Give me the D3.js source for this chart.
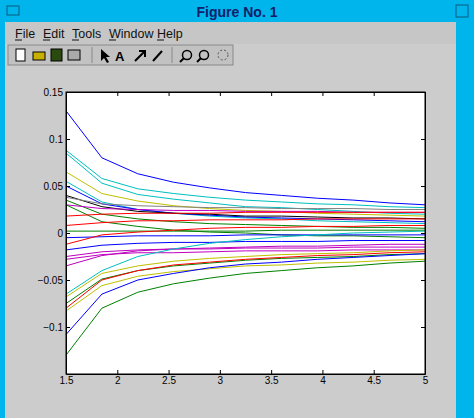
<!DOCTYPE html>
<html><head><meta charset="utf-8">
<script src="https://cdn.jsdelivr.net/npm/d3@7"></script>
<style>body{margin:0;background:#00b4ec;font-family:"Liberation Sans",Arial,sans-serif}</style>
</head><body>
<script>
// x positions of samples
var xs = [1.5, 1.85, 2.2, 2.55, 2.9, 3.25, 3.6, 3.95, 4.3, 4.65, 5];
var xTicks = [1.5, 2, 2.5, 3, 3.5, 4, 4.5, 5];
var yTicks = [-0.1, -0.05, 0, 0.05, 0.1, 0.15];
var menus = ['File', 'Edit', 'Tools', 'Window', 'Help'];

var colors = ['#0000ff','#00bfbf','#00bfbf','#bfbf00','#00bfbf','#0000ff','#000000','#808080','#008000',
  '#bf00bf','#008000','#ff0000','#ff0000','#008000','#0000ff','#ff0000','#0000ff','#bf00bf','#bf00bf',
  '#bf00bf','#00bfbf','#bfbf00','#008000','#ff0000','#bfbf00','#0000ff','#008000'];
var series = [
  [.130,.080,.063,.054,.048,.043,.040,.037,.035,.032,.030],
  [.088,.058,.047,.042,.038,.035,.033,.031,.030,.028,.027],
  [.085,.053,.041,.036,.032,.028,.027,.025,.023,.021,.020],
  [.065,.042,.034,.029,.026,.024,.023,.021,.020,.019,.018],
  [.055,.033,.025,.021,.018,.016,.015,.013,.012,.011,.010],
  [.050,.031,.025,.021,.019,.017,.016,.015,.014,.013,.012],
  [.040,.028,.023,.021,.020,.018,.018,.017,.016,.016,.015],
  [.038,.031,.029,.028,.027,.027,.026,.026,.026,.025,.025],
  [.035,.020,.015,.012,.010,.009,.008,.007,.006,.006,.005],
  [.030,.026,.025,.024,.024,.023,.023,.023,.022,.022,.022],
  [.030,.012,.007,.003,.001,0,-.002,-.003,-.003,-.004,-.005],
  [.018,.020,.021,.021,.021,.022,.022,.022,.022,.022,.022],
  [.008,.011,.013,.013,.014,.014,.014,.015,.015,.015,.015],
  [.002,.002,.002,.002,.002,.002,.003,.003,.003,.003,.003],
  [-.005,-.004,-.003,-.003,-.003,-.002,-.002,-.002,-.002,-.002,-.002],
  [-.012,-.002,.001,.003,.005,.006,.006,.007,.007,.008,.008],
  [-.018,-.013,-.011,-.010,-.010,-.009,-.009,-.009,-.008,-.008,-.008],
  [-.025,-.020,-.018,-.017,-.017,-.016,-.016,-.016,-.015,-.015,-.015],
  [-.028,-.023,-.021,-.021,-.020,-.019,-.019,-.019,-.018,-.018,-.018],
  [-.035,-.024,-.019,-.017,-.016,-.015,-.014,-.014,-.013,-.012,-.012],
  [-.065,-.040,-.025,-.017,-.011,-.007,-.004,-.002,0,.001,.002],
  [-.068,-.043,-.035,-.030,-.027,-.025,-.023,-.022,-.021,-.019,-.018],
  [-.075,-.049,-.040,-.035,-.032,-.029,-.027,-.026,-.025,-.023,-.022],
  [-.080,-.050,-.040,-.034,-.031,-.028,-.026,-.024,-.023,-.021,-.020],
  [-.083,-.056,-.046,-.041,-.038,-.035,-.034,-.032,-.031,-.029,-.028],
  [-.108,-.065,-.050,-.043,-.037,-.033,-.031,-.028,-.026,-.024,-.022],
  [-.130,-.080,-.063,-.054,-.048,-.043,-.040,-.037,-.035,-.032,-.030]
];

var svg = d3.select('body').append('svg').attr('width', 474).attr('height', 418).style('display', 'block');

/* window chrome */
svg.append('rect').attr('x', 0).attr('y', 0).attr('width', 474).attr('height', 418).attr('fill', '#00b4ec');
svg.append('rect').attr('x', 5).attr('y', 22).attr('width', 451).attr('height', 396).attr('fill', '#cccccc');
svg.append('text').attr('x', 237).attr('y', 17).attr('text-anchor', 'middle')
  .attr('font-size', 14).attr('font-weight', 'bold').attr('fill', '#10206a').text('Figure No. 1');
svg.append('rect').attr('x', 7).attr('y', 6).attr('width', 12).attr('height', 9).attr('fill', 'none').attr('stroke', '#0a5a80');
svg.append('rect').attr('x', 456).attr('y', 5).attr('width', 12).attr('height', 12).attr('fill', 'none').attr('stroke', '#0a5a80');
svg.append('rect').attr('x', 5).attr('y', 22).attr('width', 451).attr('height', 22).attr('fill', '#c6c6c6');
var mx = [15, 43, 72, 109, 157];
menus.forEach(function (m, i) {
  svg.append('text').attr('x', mx[i]).attr('y', 38).attr('font-size', 12.5).attr('fill', '#111').text(m);
  svg.append('line').attr('x1', mx[i]).attr('x2', mx[i] + 7).attr('y1', 40).attr('y2', 40).attr('stroke', '#111');
});
svg.append('rect').attr('x', 8).attr('y', 45).attr('width', 225).attr('height', 20).attr('fill', '#c2c2c2')
  .attr('stroke', '#888');
// toolbar glyphs
var tb = svg.append('g').attr('font-size', 13).attr('font-weight', 'bold');
tb.append('rect').attr('x', 16).attr('y', 49).attr('width', 9).attr('height', 12).attr('fill', '#fff').attr('stroke', '#000');
tb.append('rect').attr('x', 33).attr('y', 52).attr('width', 12).attr('height', 8).attr('fill', '#c8b000').attr('stroke', '#000');
tb.append('rect').attr('x', 51).attr('y', 49).attr('width', 11).attr('height', 12).attr('fill', '#2a4a10').attr('stroke', '#000');
tb.append('rect').attr('x', 68).attr('y', 50).attr('width', 12).attr('height', 10).attr('fill', '#aaa').attr('stroke', '#000');
tb.append('path').attr('d', 'M101,49 L101,61 L104,58 L107,63 L109,62 L106,57 L110,57 Z').attr('fill', '#000');
tb.append('text').attr('x', 115).attr('y', 61).text('A');
tb.append('path').attr('d', 'M135,61 L145,51 M139,51 L145,51 L145,57').attr('stroke', '#000').attr('stroke-width', 2).attr('fill', 'none');
tb.append('path').attr('d', 'M153,61 L162,51').attr('stroke', '#000').attr('stroke-width', 2);
[[187, 55], [204, 55]].forEach(function (c, i) {
  tb.append('circle').attr('cx', c[0]).attr('cy', c[1]).attr('r', 4.5).attr('fill', 'none').attr('stroke', '#000').attr('stroke-width', 1.5);
  tb.append('line').attr('x1', c[0] - 3).attr('y1', c[1] + 3).attr('x2', c[0] - 7).attr('y2', c[1] + 7).attr('stroke', '#000').attr('stroke-width', 2);
});
tb.append('circle').attr('cx', 223).attr('cy', 55).attr('r', 5).attr('fill', 'none').attr('stroke', '#555').attr('stroke-dasharray', '2,2');
svg.append('line').attr('x1', 92).attr('x2', 92).attr('y1', 47).attr('y2', 63).attr('stroke', '#888');
svg.append('line').attr('x1', 172).attr('x2', 172).attr('y1', 47).attr('y2', 63).attr('stroke', '#888');

/* axes */
var x = d3.scaleLinear().domain([1.5, 5]).range([66, 425]);
var y = d3.scaleLinear().domain([-0.15, 0.15]).range([374, 92]);
svg.append('rect').attr('x', 66).attr('y', 92).attr('width', 359).attr('height', 282).attr('fill', '#fff');

var line = d3.line().x(function (d, i) { return x(xs[i]); }).y(function (d) { return y(d); });
svg.append('g').selectAll('path').data(series).enter().append('path')
  .attr('d', line).attr('fill', 'none').attr('stroke-width', 1)
  .attr('stroke', function (d, i) { return colors[i]; });

var fmt = function (d) { return d3.format('')(+d.toFixed(2)); };
svg.append('g').attr('transform', 'translate(0,374)')
  .call(d3.axisBottom(x).tickValues(xTicks).tickSizeInner(-4).tickSizeOuter(0).tickFormat(fmt));
svg.append('g').attr('transform', 'translate(0,92)')
  .call(d3.axisTop(x).tickValues(xTicks).tickSizeInner(-4).tickSizeOuter(0).tickFormat(''));
svg.append('g').attr('transform', 'translate(66,0)')
  .call(d3.axisLeft(y).tickValues(yTicks).tickSizeInner(-4).tickSizeOuter(0).tickFormat(fmt));
svg.append('g').attr('transform', 'translate(425,0)')
  .call(d3.axisRight(y).tickValues(yTicks).tickSizeInner(-4).tickSizeOuter(0).tickFormat(''));
svg.selectAll('.tick text').attr('font-size', 10).attr('fill', '#000').attr('font-family', 'Liberation Sans, Arial');
svg.selectAll('.domain').attr('stroke', '#000');
svg.append('rect').attr('x', 66).attr('y', 92).attr('width', 359).attr('height', 282).attr('fill', 'none').attr('stroke', '#000');
</script>
</body></html>
